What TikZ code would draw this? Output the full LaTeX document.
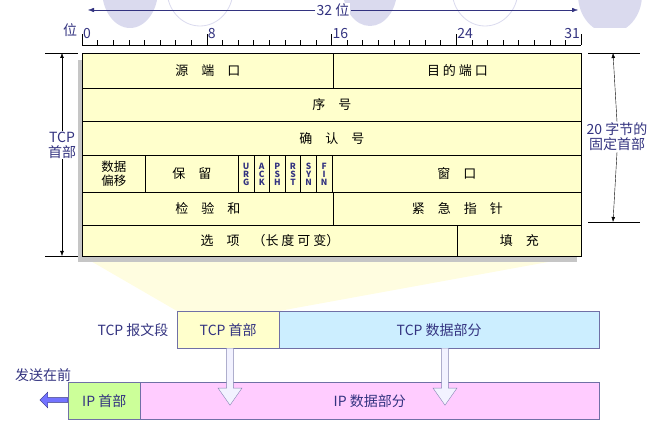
\documentclass[tikz,border=0pt]{standalone}
\usepackage{fontspec}
\setmainfont{Noto Sans CJK SC}
\usetikzlibrary{arrows.meta, shapes.arrows}
\definecolor{navy}{HTML}{333380}
\definecolor{hdr}{HTML}{FFFFCC}
\definecolor{tcpdata}{HTML}{CCEEFF}
\definecolor{iphdr}{HTML}{CCFF99}
\definecolor{ipdata}{HTML}{FFCCFF}
\definecolor{deco}{HTML}{DADAEE}
\begin{document}
\begin{tikzpicture}[x=1pt, y=-1pt, font=\fontsize{13}{14}\selectfont,
    field/.style={draw, thick, fill=hdr, anchor=north west, minimum height=#1, inner sep=0pt},
    lbl/.style={text=navy, font=\fontsize{14}{15}\selectfont},
    seg/.style={draw=navy!70, anchor=north west, minimum height=37, inner sep=0pt, text=navy, font=\fontsize{14}{15}\selectfont},
    flag/.style={font=\fontsize{8.5}{8}\selectfont\bfseries, align=center, text=navy, inner sep=0pt},
    hollow/.style={single arrow, draw=navy!60, fill=blue!5, minimum width=24, single arrow head extend=7, single arrow tip angle=70, shape border rotate=270, inner sep=2.5pt, anchor=north}]
  \useasboundingbox (0,0) rectangle (656,427);
  % background decoration
  \begin{scope}
    \clip (0,0) rectangle (656,28);
    \fill[deco] (130,-10) ellipse (28 and 38);
    \fill[deco] (610,-5) ellipse (32 and 38);
    \fill[deco] (370,-10) ellipse (27 and 36);
    \draw[deco, thick] (200,-10) ellipse (33 and 36);
    \draw[deco, thick] (485,-10) ellipse (33 and 36);
  \end{scope}
  % fan towards the TCP header segment
  \fill[yellow!12] (82,256) -- (581,256) -- (279,311) -- (177,311) -- cycle;
  % shadow
  \fill[gray!45] (78,60) rectangle (577,262);
  % 32 bit ruler
  \node[lbl, fill=white, inner sep=1pt] (width) at (333,10) {32 位};
  \draw[navy, -{Latex[length=6pt]}] (width.west) -- (88,10);
  \draw[navy, -{Latex[length=6pt]}] (width.east) -- (578,10);
  \node[lbl] (bitlbl) at (70,30) {位};
  \draw (82,45) -- (581,45);
  \foreach \i in {0,...,32} {
    \draw (82+\i*15.594,45) -- (82+\i*15.594,40);
  }
  \foreach \i/\t in {0/0,8/8,16/16,24/24} {
    \draw (82+\i*15.594,45) -- (82+\i*15.594,34);
    \node[lbl, anchor=south west, inner sep=1pt] at (82+\i*15.594,40) {\t};
  }
  \draw (581,45) -- (581,34);
  \node[lbl, anchor=south east, inner sep=1pt] at (581,40) {31};
  % header fields
  \node[field=35, minimum width=251] (src) at (82,53) {源\quad 端\quad 口};
  \node[field=35, minimum width=248] (dst) at (333,53) {目\ 的\ 端\ 口};
  \node[field=33, minimum width=499] (seq) at (82,88) {序\quad 号};
  \node[field=34, minimum width=499] (ack) at (82,121) {确\quad 认\quad 号};
  \node[field=37, minimum width=63, align=center, font=\fontsize{12.5}{14}\selectfont] (off) at (82,155) {数据\\偏移};
  \node[field=37, minimum width=93] (res) at (145,155) {保\quad 留};
  \foreach \f [count=\k from 0] in {U\\R\\G, A\\C\\K, P\\S\\H, R\\S\\T, S\\Y\\N, F\\I\\N} {
    \node[field=37, minimum width=15.6] (fl\k) at (238+\k*15.6,155) {};
    \node[flag] at (fl\k) {\f};
  }
  \node[field=37, minimum width=249] (win) at (332,155) {窗\quad 口};
  \node[field=33, minimum width=251] (chk) at (82,192) {检\quad 验\quad 和};
  \node[field=33, minimum width=248] (urg) at (333,192) {紧\quad 急\quad 指\quad 针};
  \node[field=31, minimum width=375] (opt) at (82,225) {选\quad 项\quad （长\ 度\ 可\ 变）};
  \node[field=31, minimum width=124] (pad) at (457,225) {填\quad 充};
  \draw[thick] (82,53) rectangle (581,256);
  % left and right dimensions
  \node[lbl, align=center, fill=white, inner sep=1pt] (hdrlen) at (62,145) {TCP\\首部};
  \draw (45,53) -- (78,53) (45,256) -- (78,256);
  \draw[-{Latex[length=5pt]}] (hdrlen.north) -- (62,53);
  \draw[-{Latex[length=5pt]}] (hdrlen.south) -- (62,256);
  \node[lbl, align=center, fill=white, inner sep=1pt] (fixlen) at (617,137) {20 字节的\\固定首部};
  \draw (588,53) -- (640,53) (588,222) -- (640,222);
  \draw[-{Latex[length=5pt]}] (fixlen.north) -- (613,53);
  \draw[-{Latex[length=5pt]}] (fixlen.south) -- (613,222);
  % segment and datagram
  \node[lbl, anchor=east] (seglbl) at (172,330) {TCP 报文段};
  \node[seg, fill=hdr, minimum width=102] (tcph) at (177,311) {TCP 首部};
  \node[seg, fill=tcpdata, minimum width=320] (tcpd) at (279,311) {TCP 数据部分};
  \node[seg, fill=iphdr, minimum width=72] (iph) at (68,382) {IP 首部};
  \node[seg, fill=ipdata, minimum width=459] (ipd) at (140,382) {IP 数据部分};
  \node[hollow, minimum height=57] (down1) at (230,348) {};
  \node[hollow, minimum height=57] (down2) at (445,348) {};
  \node[lbl, anchor=south west, inner sep=1pt] (first) at (14,383) {发送在前};
  \node[single arrow, draw=navy, fill=blue!55, minimum width=16, minimum height=28, single arrow head extend=4, inner sep=1.5pt, shape border rotate=180, anchor=east] (send) at (68,400) {};
\end{tikzpicture}
\end{document}
